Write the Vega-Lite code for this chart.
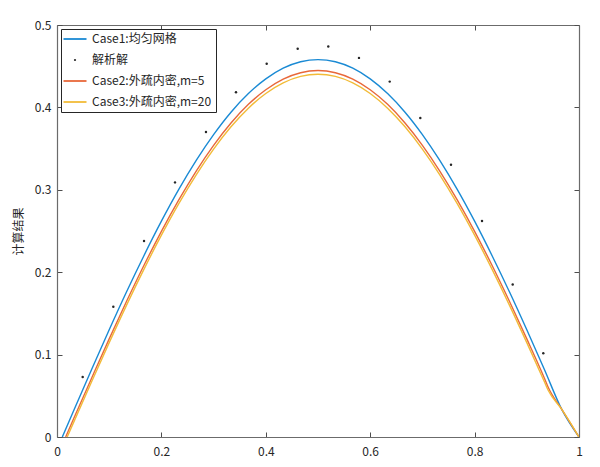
{
  "$schema": "https://vega.github.io/schema/vega-lite/v6.json",
  "width": 522,
  "height": 412,
  "autosize": {"type": "none"},
  "padding": {"left": 57, "top": 25, "right": 21, "bottom": 30},
  "background": "white",
  "config": {
    "font": "Noto Sans CJK SC",
    "view": {"stroke": null},
    "axis": {
      "domainColor": "#6b6b6b",
      "domainWidth": 1.2,
      "tickColor": "#4d4d4d",
      "tickSize": -5,
      "tickWidth": 1,
      "labelFontSize": 12,
      "labelColor": "#262626",
      "labelFont": "Noto Sans CJK SC",
      "grid": false,
      "titleFontSize": 12,
      "titleFontWeight": "normal",
      "titleColor": "#262626"
    }
  },
  "datasets": {
    "curves": [
      {"series": "Case1:均匀网格", "x": 0.0102, "y": 0},
      {"series": "Case1:均匀网格", "x": 0.0333, "y": 0.0340},
      {"series": "Case1:均匀网格", "x": 0.0667, "y": 0.0825},
      {"series": "Case1:均匀网格", "x": 0.1, "y": 0.1301},
      {"series": "Case1:均匀网格", "x": 0.1333, "y": 0.1762},
      {"series": "Case1:均匀网格", "x": 0.1667, "y": 0.2203},
      {"series": "Case1:均匀网格", "x": 0.2, "y": 0.2619},
      {"series": "Case1:均匀网格", "x": 0.2333, "y": 0.3005},
      {"series": "Case1:均匀网格", "x": 0.2667, "y": 0.3357},
      {"series": "Case1:均匀网格", "x": 0.3, "y": 0.3670},
      {"series": "Case1:均匀网格", "x": 0.3333, "y": 0.3942},
      {"series": "Case1:均匀网格", "x": 0.3667, "y": 0.4168},
      {"series": "Case1:均匀网格", "x": 0.4, "y": 0.4346},
      {"series": "Case1:均匀网格", "x": 0.4333, "y": 0.4476},
      {"series": "Case1:均匀网格", "x": 0.4667, "y": 0.4554},
      {"series": "Case1:均匀网格", "x": 0.5, "y": 0.4580},
      {"series": "Case1:均匀网格", "x": 0.5333, "y": 0.4554},
      {"series": "Case1:均匀网格", "x": 0.5667, "y": 0.4476},
      {"series": "Case1:均匀网格", "x": 0.6, "y": 0.4346},
      {"series": "Case1:均匀网格", "x": 0.6333, "y": 0.4168},
      {"series": "Case1:均匀网格", "x": 0.6667, "y": 0.3942},
      {"series": "Case1:均匀网格", "x": 0.7, "y": 0.3670},
      {"series": "Case1:均匀网格", "x": 0.7333, "y": 0.3357},
      {"series": "Case1:均匀网格", "x": 0.7667, "y": 0.3005},
      {"series": "Case1:均匀网格", "x": 0.8, "y": 0.2619},
      {"series": "Case1:均匀网格", "x": 0.8333, "y": 0.2203},
      {"series": "Case1:均匀网格", "x": 0.8667, "y": 0.1762},
      {"series": "Case1:均匀网格", "x": 0.9, "y": 0.1301},
      {"series": "Case1:均匀网格", "x": 0.9333, "y": 0.0825},
      {"series": "Case1:均匀网格", "x": 0.9667, "y": 0.0338},
      {"series": "Case1:均匀网格", "x": 1, "y": 0},

      {"series": "Case2:外疏内密,m=5", "x": 0.0166, "y": 0},
      {"series": "Case2:外疏内密,m=5", "x": 0.0333, "y": 0.0242},
      {"series": "Case2:外疏内密,m=5", "x": 0.0667, "y": 0.0720},
      {"series": "Case2:外疏内密,m=5", "x": 0.1, "y": 0.1191},
      {"series": "Case2:外疏内密,m=5", "x": 0.1333, "y": 0.1647},
      {"series": "Case2:外疏内密,m=5", "x": 0.1667, "y": 0.2084},
      {"series": "Case2:外疏内密,m=5", "x": 0.2, "y": 0.2496},
      {"series": "Case2:外疏内密,m=5", "x": 0.2333, "y": 0.2878},
      {"series": "Case2:外疏内密,m=5", "x": 0.2667, "y": 0.3228},
      {"series": "Case2:外疏内密,m=5", "x": 0.3, "y": 0.3540},
      {"series": "Case2:外疏内密,m=5", "x": 0.3333, "y": 0.3811},
      {"series": "Case2:外疏内密,m=5", "x": 0.3667, "y": 0.4037},
      {"series": "Case2:外疏内密,m=5", "x": 0.4, "y": 0.4214},
      {"series": "Case2:外疏内密,m=5", "x": 0.4333, "y": 0.4343},
      {"series": "Case2:外疏内密,m=5", "x": 0.4667, "y": 0.4421},
      {"series": "Case2:外疏内密,m=5", "x": 0.5, "y": 0.4447},
      {"series": "Case2:外疏内密,m=5", "x": 0.5333, "y": 0.4421},
      {"series": "Case2:外疏内密,m=5", "x": 0.5667, "y": 0.4343},
      {"series": "Case2:外疏内密,m=5", "x": 0.6, "y": 0.4214},
      {"series": "Case2:外疏内密,m=5", "x": 0.6333, "y": 0.4037},
      {"series": "Case2:外疏内密,m=5", "x": 0.6667, "y": 0.3811},
      {"series": "Case2:外疏内密,m=5", "x": 0.7, "y": 0.3540},
      {"series": "Case2:外疏内密,m=5", "x": 0.7333, "y": 0.3228},
      {"series": "Case2:外疏内密,m=5", "x": 0.7667, "y": 0.2878},
      {"series": "Case2:外疏内密,m=5", "x": 0.8, "y": 0.2496},
      {"series": "Case2:外疏内密,m=5", "x": 0.8333, "y": 0.2084},
      {"series": "Case2:外疏内密,m=5", "x": 0.8667, "y": 0.1647},
      {"series": "Case2:外疏内密,m=5", "x": 0.9, "y": 0.1191},
      {"series": "Case2:外疏内密,m=5", "x": 0.9333, "y": 0.0720},
      {"series": "Case2:外疏内密,m=5", "x": 0.9412, "y": 0.0600},
      {"series": "Case2:外疏内密,m=5", "x": 0.9667, "y": 0.0338},
      {"series": "Case2:外疏内密,m=5", "x": 1, "y": 0},

      {"series": "Case3:外疏内密,m=20", "x": 0.0195, "y": 0},
      {"series": "Case3:外疏内密,m=20", "x": 0.0333, "y": 0.0199},
      {"series": "Case3:外疏内密,m=20", "x": 0.0667, "y": 0.0676},
      {"series": "Case3:外疏内密,m=20", "x": 0.1, "y": 0.1145},
      {"series": "Case3:外疏内密,m=20", "x": 0.1333, "y": 0.1601},
      {"series": "Case3:外疏内密,m=20", "x": 0.1667, "y": 0.2037},
      {"series": "Case3:外疏内密,m=20", "x": 0.2, "y": 0.2449},
      {"series": "Case3:外疏内密,m=20", "x": 0.2333, "y": 0.2832},
      {"series": "Case3:外疏内密,m=20", "x": 0.2667, "y": 0.3182},
      {"series": "Case3:外疏内密,m=20", "x": 0.3, "y": 0.3494},
      {"series": "Case3:外疏内密,m=20", "x": 0.3333, "y": 0.3765},
      {"series": "Case3:外疏内密,m=20", "x": 0.3667, "y": 0.3991},
      {"series": "Case3:外疏内密,m=20", "x": 0.4, "y": 0.4169},
      {"series": "Case3:外疏内密,m=20", "x": 0.4333, "y": 0.4298},
      {"series": "Case3:外疏内密,m=20", "x": 0.4667, "y": 0.4376},
      {"series": "Case3:外疏内密,m=20", "x": 0.5, "y": 0.4402},
      {"series": "Case3:外疏内密,m=20", "x": 0.5333, "y": 0.4376},
      {"series": "Case3:外疏内密,m=20", "x": 0.5667, "y": 0.4298},
      {"series": "Case3:外疏内密,m=20", "x": 0.6, "y": 0.4169},
      {"series": "Case3:外疏内密,m=20", "x": 0.6333, "y": 0.3991},
      {"series": "Case3:外疏内密,m=20", "x": 0.6667, "y": 0.3765},
      {"series": "Case3:外疏内密,m=20", "x": 0.7, "y": 0.3494},
      {"series": "Case3:外疏内密,m=20", "x": 0.7333, "y": 0.3182},
      {"series": "Case3:外疏内密,m=20", "x": 0.7667, "y": 0.2832},
      {"series": "Case3:外疏内密,m=20", "x": 0.8, "y": 0.2449},
      {"series": "Case3:外疏内密,m=20", "x": 0.8333, "y": 0.2037},
      {"series": "Case3:外疏内密,m=20", "x": 0.8667, "y": 0.1601},
      {"series": "Case3:外疏内密,m=20", "x": 0.9, "y": 0.1145},
      {"series": "Case3:外疏内密,m=20", "x": 0.9333, "y": 0.0676},
      {"series": "Case3:外疏内密,m=20", "x": 0.9412, "y": 0.0564},
      {"series": "Case3:外疏内密,m=20", "x": 0.9667, "y": 0.0338},
      {"series": "Case3:外疏内密,m=20", "x": 1, "y": 0}
    ],
    "exact": [
      {"series": "解析解", "x": 0.0492, "y": 0.0729},
      {"series": "解析解", "x": 0.1079, "y": 0.1580},
      {"series": "解析解", "x": 0.1667, "y": 0.2378},
      {"series": "解析解", "x": 0.2261, "y": 0.3090},
      {"series": "解析解", "x": 0.2854, "y": 0.3702},
      {"series": "解析解", "x": 0.3429, "y": 0.4183},
      {"series": "解析解", "x": 0.4017, "y": 0.4529},
      {"series": "解析解", "x": 0.4611, "y": 0.4711},
      {"series": "解析解", "x": 0.5197, "y": 0.4739},
      {"series": "解析解", "x": 0.5785, "y": 0.4601},
      {"series": "解析解", "x": 0.6374, "y": 0.4313},
      {"series": "解析解", "x": 0.6960, "y": 0.3872},
      {"series": "解析解", "x": 0.7548, "y": 0.3305},
      {"series": "解析解", "x": 0.8142, "y": 0.2621},
      {"series": "解析解", "x": 0.8730, "y": 0.1851},
      {"series": "解析解", "x": 0.9316, "y": 0.1017}
    ]
  },
  "layer": [
    {
      "data": {"name": "curves"},
      "mark": {"type": "line", "strokeWidth": 1.4, "clip": true, "interpolate": "monotone"},
      "encoding": {
        "x": {
          "field": "x", "type": "quantitative",
          "scale": {"domain": [0, 1], "nice": false, "zero": false},
          "axis": {"orient": "bottom", "title": null, "values": [0, 0.2, 0.4, 0.6, 0.8, 1], "format": ".1~f", "labelPadding": 14, "labelFlush": false}
        },
        "y": {
          "field": "y", "type": "quantitative",
          "scale": {"domain": [0, 0.5], "nice": false},
          "axis": {"orient": "left", "title": "计算结果", "values": [0, 0.1, 0.2, 0.3, 0.4, 0.5], "format": ".1~f", "labelPadding": 11, "titlePadding": 9}
        },
        "color": {
          "field": "series", "type": "nominal",
          "scale": {
            "domain": ["Case1:均匀网格", "解析解", "Case2:外疏内密,m=5", "Case3:外疏内密,m=20"],
            "range": ["#1a8ad4", "#262626", "#e8683a", "#f2bb38"]
          },
          "legend": {
            "orient": "top-left",
            "offset": 4,
            "title": null,
            "strokeColor": "#262626",
            "fillColor": "white",
            "padding": 4,
            "labelFontSize": 12,
            "labelColor": "#262626",
            "labelFont": "Noto Sans CJK SC",
            "labelOffset": 11,
            "symbolOffset": 4,
            "symbolSize": 529,
            "symbolType": "stroke",
            "rowPadding": 9,
            "encode": {
              "symbols": {
                "update": {
                  "shape": {"signal": "datum.value === '解析解' ? 'circle' : 'stroke'"},
                  "size": {"signal": "datum.value === '解析解' ? 5 : 529"},
                  "stroke": {"signal": "scale('color', datum.value)"},
                  "fill": {"signal": "datum.value === '解析解' ? scale('color', datum.value) : 'transparent'"},
                  "strokeWidth": {"signal": "datum.value === '解析解' ? 0 : 1.8"},
                  "opacity": {"value": 1}
                }
              }
            }
          }
        },
        "order": {"field": "x", "type": "quantitative"}
      }
    },
    {
      "data": {"name": "exact"},
      "mark": {"type": "point", "filled": true, "size": 6, "opacity": 1},
      "encoding": {
        "x": {
          "field": "x", "type": "quantitative",
          "axis": {"orient": "top", "title": null, "values": [0, 0.2, 0.4, 0.6, 0.8, 1], "labels": false}
        },
        "y": {
          "field": "y", "type": "quantitative",
          "axis": {"orient": "right", "title": null, "values": [0, 0.1, 0.2, 0.3, 0.4, 0.5], "labels": false}
        },
        "color": {"field": "series", "type": "nominal"}
      }
    }
  ],
  "resolve": {"axis": {"x": "independent", "y": "independent"}}
}
